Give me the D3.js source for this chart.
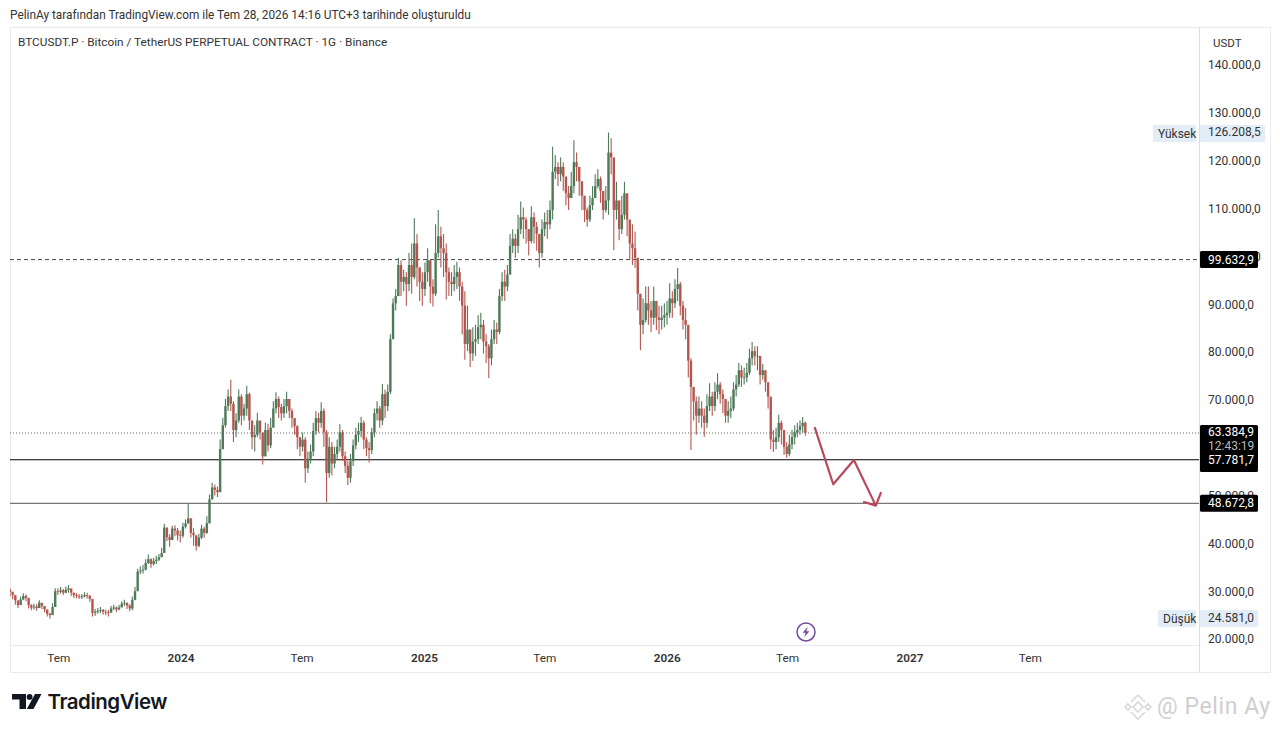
<!DOCTYPE html>
<html><head><meta charset="utf-8">
<style>html,body{margin:0;padding:0;background:#fff}svg{display:block}text{font-family:Roboto,"Liberation Sans",sans-serif}</style>
<script src="https://cdn.jsdelivr.net/npm/d3@7/dist/d3.min.js"></script>
</head><body><div id="c"></div>
<script>
const openFirst = 30.6;
const firstDate = "2023-04-18";
const closes = [
30.2,29.5,28.4,27.4,28.6,29.3,28.9,27.4,26.9,27.1,
26.8,27.9,27.2,26.5,25.6,25.3,27.0,30.3,30.2,30.5,
30.0,30.6,30.9,30.0,29.5,29.3,29.2,29.2,29.5,29.3,
28.7,25.8,26.0,26.2,26.4,26.0,25.9,25.8,26.7,26.9,
26.5,26.9,27.7,27.9,27.3,26.7,28.5,30.3,34.4,34.6,
34.8,36.2,37.0,36.0,36.6,36.9,37.4,38.3,43.6,41.6,
41.0,43.4,43.0,42.0,41.9,43.8,44.5,45.5,42.5,42.0,
39.8,41.5,43.4,42.5,44.5,49.5,52.0,51.5,51.0,60,
65,69,71,69.5,64,66,71,67,68.5,71.5,
66,62.5,63,66,63.5,58.5,64,60.8,64.5,68.5,
70.5,68.8,67.5,69,70.5,68,66.5,64.8,62.5,60.5,
62,56,58,59.5,63.8,66.5,65.5,68,63.5,55,
60.5,57,59,60.5,63.5,58.5,56.5,54,57.5,60.8,
63,63.8,65.5,62,60.2,59.8,63.5,67.5,68.5,66,
71.5,69,72,83,90.5,92,98.5,95,96,94.5,
98.5,96,103,98,95,93.5,97,99.5,94,92.5,
101,104.5,102,101,97,95,94.5,96,97,94,
90,82,85,80,82.5,83,85.5,86,82.5,81.5,
79,83,85,84.5,92,95,94,96.5,102.5,104,
102.5,106,108.5,108,106,103.5,108.5,106.5,105,101,
106,107.5,107,110,118,119,117.5,119,117,113.5,
112.5,115,120,119,116,113,110,108,111,112.5,
115,116.5,114,110,112,122,121,110,112,106,
109,113.5,108,103,102,100,92.5,86,87,90.5,
89,87.5,91,87.5,87,87.5,88,88.5,91.5,90.5,
93.5,94.5,90,87,86,78.5,73,70,67,68.5,
67,65.5,69,71,69,72,73.5,71.5,70.5,67,
68,68.5,72.5,73.5,76.5,75,75,76,79,80.5,
79.5,79.5,75.5,76.5,74,71,62,61.5,62.5,65.5,
64,60.5,59,61,62.5,63.5,64,64.8,65.5,63.4];
const highs = [
30.9,30.0,29.2,28.2,29.2,29.9,29.6,28.6,27.6,27.7,
27.6,28.4,27.8,27.2,26.4,25.8,27.8,30.9,30.9,31.2,
30.8,31.3,31.6,30.7,30.0,29.9,29.7,29.7,30.1,30.0,
29.5,28.7,26.6,26.8,27.0,26.6,26.5,26.4,27.2,27.5,
27.1,27.4,28.2,28.5,27.9,27.6,29.2,31.2,35.0,35.5,
35.8,37.0,38.0,37.2,37.3,37.7,38.1,39.4,44.4,43.6,
42.2,44.0,44.1,43.5,43.0,44.6,45.3,48.6,45.6,43.5,
41.8,42.3,44.2,43.8,46.0,50.5,53.0,52.6,52.2,62.0,
66.5,70.5,72.5,74.5,70,67.5,72.5,71.5,69.5,73.2,
71.8,64.5,65,67.6,65.5,62,65.6,65.3,66.5,70,
71.9,71,69.5,70.5,72,70.5,68.5,66.5,65,62.5,
63.5,62.5,59.5,61,65.5,68,67.6,69.8,68.5,64,
62.5,61.5,60.5,62,65.2,64,59.5,57.5,59,62,
64.5,65.5,66.8,66,62.5,61.5,64.5,68.5,70,69,
73.6,72.5,73.5,84,91.5,93.5,100,99.5,97.5,97,
101,103,108.3,105,98,97,99,102,99.5,95.5,
107,110,106.5,105,103,98,97,98.5,99.2,98,
95,93,90,85,85.5,86,88,88.5,87,84,
82,85,87,86.5,93.5,97,97.5,98.5,105,106,
105,109,111.8,110.5,108.5,106,110.8,109.5,107.5,104,
108,109.5,110,112,123.2,121.5,120,121,120,116,
115,118,124.6,122,119,116,112.5,110.5,113,115,
117.5,118.5,117,113,115,126.2,125,120,115.9,111,
113,115.9,112.5,107.5,107,105.5,100,91.5,91.5,94,
94,91,94,91,90,90,90.5,91,94.7,93,
95.5,97.9,95,91,89.5,85,79,73,71,71,
70,68.5,71.5,73.8,72,74,75.9,74,72.5,70,
70,71,74,75.5,78,77.5,77,78,81,82.4,
81.5,81.5,78,77.8,76.5,73,70.5,64,64.5,67.2,
66,63.5,61.5,63,64,65,65.5,66,66.7,65.8];
const lows = [
29.2,28.6,27.5,26.8,27.5,28.4,28.2,26.7,26.3,26.5,
26.2,26.8,26.6,25.9,25.0,24.6,25.4,27.2,29.5,29.8,
29.5,29.9,30.0,29.3,28.9,28.8,28.7,28.7,29.0,28.8,
28.1,25.0,25.2,25.6,25.7,25.4,25.3,25.0,25.9,26.3,
25.9,26.3,27.0,27.2,26.6,26.1,26.3,28.4,33.6,33.9,
34.0,34.7,36.0,35.2,35.7,36.0,36.6,37.5,38.3,40.8,
39.6,41.0,41.8,40.9,40.5,41.5,43.4,44.4,41.5,39.8,
38.8,39.5,41.2,41.5,42.3,44.5,49.5,50.3,50.0,54.5,
60,64.5,68,68,61.5,62.5,65.5,65,66,67,
64,60,59.5,62.5,62,56.8,58.5,59.5,60.2,64.5,
67.5,66.5,66,66.5,67.5,66.5,64.5,63,60,58.5,
59.5,53,55,57,58.5,63,63.5,64.5,60.5,48.9,
54,54.5,56,58,59.5,57.5,55,52.5,53,56.5,
60,61.5,62.5,60,58.5,57.2,59,62.5,66,64.5,
65,66.5,68,71.5,83,89,92,92,93,90,
93,92.5,95.5,94,91,90,92,95,90.5,89.8,
92,100,98,96,91.3,92,92,93,93.5,91,
84,78.7,80.5,77.2,78.5,79.5,82,83,80,78,
74.9,77.5,82,82,84,91,91,93,96.5,101,
100,101,105,104,103,100.5,103,103,101.5,98,
100,104.5,104,106,108,116.5,115,116,114,111,
110,112.5,113.5,116,113,110,107.5,106.5,107.5,110,
112.5,114.5,111.5,108,109.5,109,117.5,101.6,108,103.7,
105,108,104.5,99.6,98.5,97.9,89,80.7,84,86.5,
86,84.5,86,84.9,84,85,85.5,86,87.5,87.5,
89.5,91,88,85,83,75,59.8,66,63,65.5,
64.5,62.6,64.5,68,67,68,70.5,69.5,67.5,65.5,
65.5,66.5,68,71,73,73,73.5,74,75.5,77.5,
77.5,76.5,73.5,74.5,72,68.5,60,59.4,60,61.5,
61,58.8,58.2,58.5,60,61,62.5,63,63.5,62.8];

const priceTicks = [20,30,40,50,60,70,80,90,100,110,120,130,140];
const timeTicks = ["2023-07-01","2024-01-01","2024-07-01","2025-01-01","2025-07-01","2026-01-01","2026-07-01","2027-01-01","2027-07-01"];
const timeLabels = ["Tem","2024","Tem","2025","Tem","2026","Tem","2027","Tem"];
const dashedLevel = 99.6329, lastPrice = 63.3849, support1 = 57.7817, support2 = 48.6728;
const highLabel = 126.2085, lowLabel = 24.581;
const arrowDates = ["2026-08-10","2026-09-07","2026-10-08","2026-11-10"];
const arrowPrices = [64.6,52.66,57.74,48.2];
const headDates = ["2026-10-22","2026-11-10","2026-11-18"];
const headPrices = [49.0,48.2,51.0];
const titleText = "PelinAy tarafından TradingView.com ile Tem 28, 2026 14:16 UTC+3 tarihinde oluşturuldu";
const symbolText = "BTCUSDT.P · Bitcoin / TetherUS PERPETUAL CONTRACT · 1G · Binance";

const W=1280,H=731;
const svg=d3.select("#c").append("svg").attr("width",W).attr("height",H).attr("viewBox",`0 0 ${W} ${H}`);
const pane={l:10,r:1199,t:27,b:645,axisB:672,outer:1270};
const parse=d3.utcParse("%Y-%m-%d");
const x=d3.scaleUtc().domain([parse("2023-04-18"),parse("2028-03-10")]).range([pane.l,pane.r]);
const y=d3.scaleLinear().domain([20,140]).range([640.5,66.5]);
const loc=d3.formatLocale({decimal:",",thousands:".",grouping:[3],currency:["",""]});
const fmt=v=>loc.format(",.1f")(v*1000);

const defs=svg.append("defs");
defs.append("clipPath").attr("id","paneClip").append("rect").attr("x",pane.l).attr("y",pane.t).attr("width",pane.r-pane.l).attr("height",pane.b-pane.t);
const f=defs.append("filter").attr("id","soft").attr("x","-5%").attr("y","-5%").attr("width","110%").attr("height","110%");
f.append("feGaussianBlur").attr("stdDeviation",0.6);

// frame
const frame=svg.append("g").attr("stroke","#e9eaec").attr("fill","none");
frame.append("rect").attr("x",pane.l+.5).attr("y",pane.t+.5).attr("width",pane.outer-pane.l).attr("height",pane.axisB-pane.t);
frame.append("line").attr("x1",pane.r+.5).attr("x2",pane.r+.5).attr("y1",pane.t).attr("y2",pane.axisB).attr("stroke","#dcdde0");
frame.append("line").attr("x1",pane.l).attr("x2",pane.r).attr("y1",pane.b+.5).attr("y2",pane.b+.5);

// level lines
const levels=svg.append("g").attr("clip-path","url(#paneClip)");
const lvl=(v,stroke,w,dash)=>levels.append("line").attr("x1",pane.l).attr("x2",pane.r).attr("y1",y(v)).attr("y2",y(v)).attr("stroke",stroke).attr("stroke-width",w).attr("stroke-dasharray",dash);
lvl(dashedLevel,"#333",0.9,"4 3");
lvl(lastPrice,"#666",1,"1 2");
lvl(support1,"#000",1.1,null);
lvl(support2,"#777",1.1,null);

// candles
const candles=closes.map((c,i)=>({d:d3.utcDay.offset(parse(firstDate),i*4),o:i?closes[i-1]:openFirst,c,h:highs[i],l:lows[i]}));
const up="#4f7a5a",down="#b4574f";
const cg=svg.append("g").attr("clip-path","url(#paneClip)").append("g").attr("filter","url(#soft)");
const cs=cg.selectAll("g").data(candles).join("g").attr("stroke",d=>d.c>=d.o?up:down).attr("fill",d=>d.c>=d.o?up:down);
cs.append("line").attr("x1",d=>x(d.d)).attr("x2",d=>x(d.d)).attr("y1",d=>y(d.h)).attr("y2",d=>y(d.l)).attr("stroke-width",1.1);
cs.append("rect").attr("x",d=>x(d.d)-1.2).attr("width",2.4).attr("y",d=>y(Math.max(d.o,d.c))).attr("height",d=>Math.max(0.8,Math.abs(y(d.o)-y(d.c)))).attr("stroke","none");

// arrow
const lineFn=d3.line().x(d=>x(parse(d[0]))).y(d=>y(d[1]));
const arrowG=svg.append("g").attr("fill","none").attr("stroke","#b8485c").attr("stroke-width",2.2).attr("stroke-linejoin","round").attr("filter","url(#soft)");
arrowG.append("path").attr("d",lineFn(d3.zip(arrowDates,arrowPrices)));
arrowG.append("path").attr("d",lineFn(d3.zip(headDates,headPrices)));

// time axis
const xAxis=d3.axisBottom(x).tickValues(timeTicks.map(parse)).tickFormat((d,i)=>timeLabels[i]).tickSize(0).tickPadding(0);
const gx=svg.append("g").attr("transform",`translate(-1,${pane.b+9})`).call(xAxis);
gx.select(".domain").remove();
gx.selectAll("text").attr("font-size",11.8).attr("fill","#333");
gx.selectAll("text").filter((d,i)=>timeLabels[i]!=="Tem").attr("font-weight",600);

// price axis
const yAxis=d3.axisRight(y).tickValues(priceTicks).tickFormat(fmt).tickSize(0).tickPadding(0);
const gy=svg.append("g").attr("transform",`translate(1208,-1.5)`).call(yAxis);
gy.select(".domain").remove();
gy.selectAll("text").attr("font-size",12).attr("fill","#333");
const T=(s,tx,ty,o={})=>svg.append("text").attr("x",tx).attr("y",ty).attr("font-size",o.size||12).attr("fill",o.fill||"#333").attr("font-weight",o.weight||400).text(s);
T("USDT",1213,47,{size:11.5});

// label boxes
const box=(x0,x1,y0,y1,fill)=>svg.append("rect").attr("x",x0).attr("y",y0).attr("width",x1-x0).attr("height",y1-y0).attr("fill",fill).attr("rx",1.5);
box(1200,1258,y(dashedLevel)-8.5,y(dashedLevel)+8.5,"#000");
box(1200,1258,425,472,"#000");
box(1200,1258,y(support2)-8.5,y(support2)+8.5,"#000");
T(fmt(dashedLevel),1208,y(dashedLevel)+4,{fill:"#fff"});
T(fmt(lastPrice),1208,y(lastPrice)+3.5,{fill:"#fff"});
T("12:43:19",1208,450,{fill:"#bbb"});
T(fmt(support1),1208,y(support1)+4.5,{fill:"#fff"});
T(fmt(support2),1208,y(support2)+4,{fill:"#fff"});
const hiY=y(highLabel)+0.5, loY=y(lowLabel)-0.5;
box(1153,1196,hiY-8,hiY+9,"#e3edf7");box(1200,1265,hiY-8,hiY+9,"#e3edf7");
box(1158,1196,loY-8,loY+9,"#e3edf7");box(1200,1258,loY-8,loY+9,"#e3edf7");
T("Yüksek",1158,hiY+5,{size:12});T(fmt(highLabel),1208,hiY+3);
T("Düşük",1163,loY+5,{size:12});T(fmt(lowLabel),1208,loY+4);

// header
T(titleText,10,19,{size:11.85,fill:"#333"});
T(symbolText,18,46,{size:11.8,fill:"#333"});

// event icon
const ev=svg.append("g").attr("transform","translate(806,632)");
ev.append("circle").attr("r",9).attr("fill","#fff").attr("stroke","#7a4a9c").attr("stroke-width",1.5);
ev.append("path").attr("d","M1.8,-5.2 L-3.4,0.8 L-0.4,0.8 L-1.8,5.2 L3.4,-0.8 L0.4,-0.8 Z").attr("fill","#7a4a9c");

// logo
const logo=svg.append("g").attr("fill","#131722");
logo.append("path").attr("d","M12,694 H26 V709 H19.5 V699.5 H12 Z");
logo.append("circle").attr("cx",29.6).attr("cy",696.9).attr("r",2.9);
logo.append("path").attr("d","M35,694 H41.5 L33.5,709 H26.8 Z");
T("TradingView",47.5,709,{size:20.5,weight:600,fill:"#131722"}).style("font-family","Inter,Roboto,sans-serif").attr("textLength",120);

// watermark
const wm=svg.append("g").attr("transform","translate(1138,707)").attr("fill","none").attr("stroke","#d8d8d8").attr("stroke-width",1.6);
wm.append("path").attr("d","M0,-12 L7,-5 M0,-12 L-7,-5 M-5,0 L0,-5 L5,0 L0,5 Z M-7,5 L0,12 L7,5");
wm.append("path").attr("d","M-13,0 L-10,-3 L-7,0 L-10,3 Z M13,0 L10,-3 L7,0 L10,3 Z");
T("@ Pelin Ay",1157,714,{size:23,fill:"#cfcfcf"}).style("letter-spacing","0.6px");
</script></body></html>
